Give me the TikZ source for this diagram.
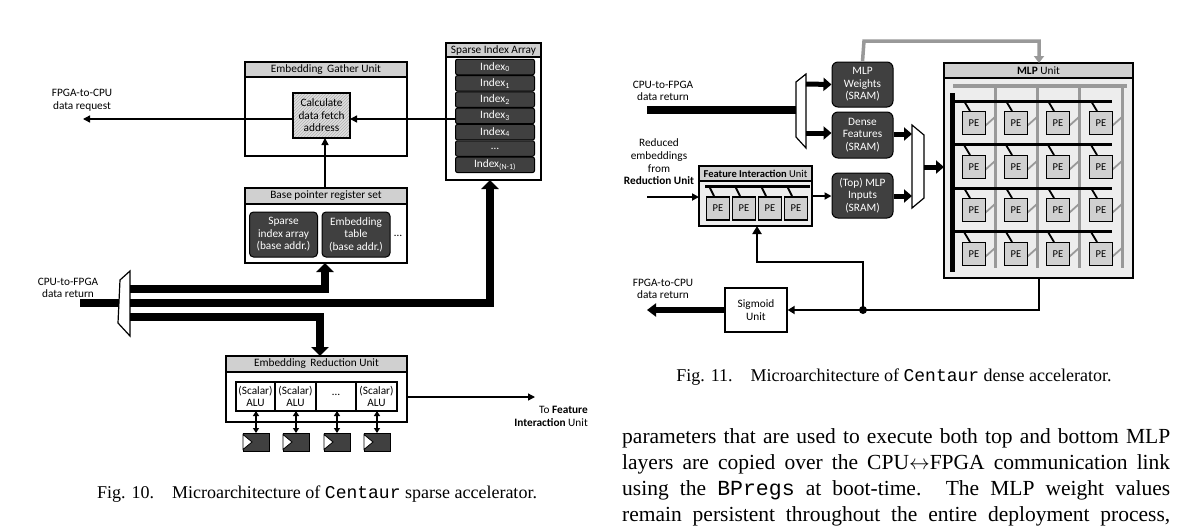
\documentclass[tikz,border=0pt]{standalone}
\usepackage{fontspec}
\setmainfont{Liberation Serif}
\setmonofont{Liberation Mono}
\newfontfamily\dsf{Carlito}
\usetikzlibrary{arrows.meta,patterns}
\definecolor{dk}{HTML}{404040}
\definecolor{hd}{HTML}{D0D0D0}
\definecolor{lg}{HTML}{EDEDED}
\definecolor{gl}{HTML}{999999}
\newcommand{\ixs}[1]{Index\textsubscript{#1}}
\begin{document}
\begin{tikzpicture}[x=1pt,y=-1pt,
  lab/.style={font=\dsf\fontsize{11.3}{12.6}\selectfont,align=center,inner sep=0},
  unit/.style={draw,line width=1.6pt,fill=white},
  hdr/.style={draw,line width=1.2pt,fill=hd},
  dbox/.style={draw=black,line width=1pt,fill=dk,rounded corners=4pt,text=white,font=\dsf\fontsize{11.3}{12.6}\selectfont,align=center},
  pe/.style={draw,line width=1.5pt,fill=hd,minimum size=23pt,inner sep=0,font=\dsf\fontsize{10.5}{11}\selectfont},
  bus/.style={line width=8pt},
  bt/.style={-{Triangle[width=17pt,length=9pt]}},
  st/.style={line width=1.4pt,-{Triangle[width=7pt,length=7pt]}},
  mt/.style={line width=5pt,-{Triangle[width=13pt,length=8pt]}},
  body/.style={anchor=base west,inner sep=0,font=\fontsize{21.5}{26}\selectfont}]
\useasboundingbox (0,0) rectangle (1200,531);
\fill[white] (0,0) rectangle (1200,531);
%% ---------- Fig 10 ----------
\draw[unit] (245,62) rectangle (407,156);
\draw[hdr] (245,62) rectangle (407,77);
\node[lab] (egu) at (326,70) {Embedding\, Gather Unit};
\draw[line width=1.3pt,fill=hd!70] (293,93) rectangle (350,138);
\fill[pattern=north east lines,pattern color=gray!60] (293,93) rectangle (350,138);
\draw[line width=1.3pt] (293,93) rectangle (350,138);
\node[lab] (calc) at (321.5,115.5) {Calculate\\data fetch\\address};
\coordinate (calcL) at (293,119); \coordinate (calcR) at (350,119); \coordinate (calcB) at (325,138);
\node[lab] (req) at (82,100) {FPGA-to-CPU\\data request};
\coordinate (reqE) at (83,119);
\draw[st] (calcL) -- (reqE);
\draw[unit] (446,43) rectangle (541,180);
\draw[hdr] (446,43) rectangle (541,57);
\node[lab] (sia) at (493.5,50) {Sparse Index Array};
\foreach \t [count=\i from 0] in {{\ixs{0}},{\ixs{1}},{\ixs{2}},{\ixs{3}},{\ixs{4}},{\ldots},{\ixs{(N-1)}}}
  \node[dbox,rounded corners=2pt,minimum width=79pt,minimum height=15.5pt,inner sep=0] (ix\i) at (495,{67+16.3*\i}) {\t};
\coordinate (siaL) at (455,119);
\draw[st] (siaL) -- (calcR);
\draw[unit] (245,188) rectangle (407,263);
\draw[hdr] (245,188) rectangle (407,204);
\node[lab] (bpr) at (326,196) {Base pointer register set};
\node[dbox,minimum width=68pt,minimum height=45pt,inner sep=1pt] (b1) at (283.5,234.5) {Sparse\\index array\\(base addr.)};
\node[dbox,minimum width=68pt,minimum height=45pt,inner sep=1pt] (b2) at (356,234.5) {Embedding\\table\\(base addr.)};
\node[lab] (bdots) at (398,236) {\ldots};
\draw[st] (325,188) -- (calcB);
\node[lab] (ret) at (68,288) {CPU-to-FPGA\\data return};
\draw[line width=1.2pt,fill=white] (120,280) -- (130,271) -- (130,336) -- (118,323) -- cycle;
\coordinate (mux1) at (119,303);
\draw[bus] (80,303) -- (mux1);
\draw[bus,bt] (130,289) -- (325,289) -- (325,263);
\draw[bus,bt] (130,303) -- (490,303) -- (490,180);
\draw[bus,bt] (130,317) -- (320,317) -- (320,356);
\draw[unit] (226,356) rectangle (407,422);
\draw[hdr] (226,356) rectangle (407,372);
\node[lab] (eru) at (316.5,364) {Embedding\, Reduction Unit};
\draw[line width=1.4pt] (236,382) rectangle (397,411);
\foreach \x in {275,316,356} \draw[line width=1.2pt] (\x,382) -- (\x,411);
\node[lab] (a1) at (255.5,396.5) {(Scalar)\\ALU};
\node[lab] (a2) at (295.5,396.5) {(Scalar)\\ALU};
\node[lab] (a3) at (336,395) {\ldots};
\node[lab] (a4) at (376.5,396.5) {(Scalar)\\ALU};
\foreach \x in {256,296,337,377}{
  \draw[fill=dk,line width=1pt] (\x-13,433) rectangle (\x+13,451);
  \draw[fill=white,line width=0.8pt] (\x-13,434.5) -- (\x-4,442) -- (\x-13,449.5) -- cycle;
  \draw[line width=1.3pt,{Triangle[width=6pt,length=5pt]}-{Triangle[width=6pt,length=5pt]}] (\x,411) -- (\x,433);
}
\coordinate (fiu0) at (535,397);
\draw[st] (407,397) -- (fiu0);
\node[lab,align=right,anchor=east] (tofe) at (588,416.5) {To \textbf{Feature}\\\textbf{Interaction} Unit};
\node[inner sep=0,font=\fontsize{18}{20}\selectfont] (c10) at (317,494) {Fig. 10.\quad Microarchitecture of \texttt{Centaur} sparse accelerator.};
%% ---------- Fig 11 ----------
\node[lab] (cret) at (663,91) {CPU-to-FPGA\\data return};
\draw[line width=8pt] (647,110) -- (797,110);
\draw[line width=1.2pt,fill=white] (796,82) -- (806,74) -- (806,148) -- (796,137) -- cycle;
\node[dbox,minimum width=61pt,minimum height=45pt,inner sep=0,rounded corners=6pt] (mw) at (862.5,84.5) {MLP\\Weights\\(SRAM)};
\node[dbox,minimum width=61pt,minimum height=46pt,inner sep=0,rounded corners=6pt] (df) at (862.5,135) {Dense\\Features\\(SRAM)};
\node[dbox,minimum width=61pt,minimum height=45pt,inner sep=0,rounded corners=6pt] (tm) at (862.5,195.5) {(Top) MLP\\Inputs\\(SRAM)};
\draw[mt] (806,84) -- (mw.west);
\draw[mt] (806,133) -- (df.west|-0,133);
\draw[line width=1.2pt,fill=white] (912,125) -- (924,135) -- (924,198) -- (912,208) -- cycle;
\coordinate (mx2) at (924,167);
\draw[mt] (df.east|-0,134) -- (912,134);
\draw[mt] (tm.east|-0,196) -- (912,196);
\draw[unit,fill=lg] (944,63) rectangle (1133,278);
\draw[hdr] (944,63) rectangle (1133,78);
\node[lab] (mlp) at (1038.5,70.5) {\textbf{MLP} Unit};
\draw[mt] (mx2) -- (944,167);
\draw[gl,line width=3.5pt,-{Triangle[width=10pt,length=7pt]}] (mw.north) -- (864,41) -- (1039,41) -- (1039,63);
\draw[gl,line width=4pt] (953,86) -- (1127,86);
\foreach \vx in {995,1037,1079,1122} \draw[gl,line width=3pt] (\vx,86) -- (\vx,268);
\draw[line width=5pt] (952,93) -- (952,272);
\foreach \hy in {101,144,188,231} \draw[line width=3pt] (952,\hy) -- (1112,\hy);
\foreach \cy [count=\r] in {123,167,210,254}{
  \foreach \cx/\vx [count=\c] in {974/995,1016/1037,1058/1079,1101/1122}{
    \draw[line width=1.8pt] (\cx-10,\cy-22) -- (\cx-4,\cy-12);
    \draw[gl,line width=1.8pt] (\cx+11,\cy+3) -- (\vx,\cy-6);
    \node[pe] (pe\r\c) at (\cx,\cy) {PE};
  }
}
\node[lab] (red) at (659,162) {Reduced\\embeddings\\from\\\textbf{Reduction Unit}};
\draw[unit,fill=lg] (699,166) rectangle (812,226);
\draw[hdr] (699,166) rectangle (812,181);
\node[lab,font=\dsf\fontsize{10.5}{12}\selectfont] (fiu) at (755.5,173.5) {\textbf{Feature Interaction} Unit};
\draw[line width=3pt] (705,186) -- (810,186);
\foreach \cx [count=\c] in {718,744,770,796}{
  \draw[line width=1.8pt] (\cx-9,186) -- (\cx-4,196);
  \node[pe] (fpe\c) at (\cx,208.5) {PE};
}
\draw[st,line width=2pt] (647,197) -- (699,197);
\draw[st,line width=2pt] (812,196) -- (tm.west|-0,196);
\node[draw,line width=1.3pt,minimum width=62pt,minimum height=44pt,lab] (sig) at (756,310) {Sigmoid\\Unit};
\node[lab] (fret) at (663,289) {FPGA-to-CPU\\data return};
\coordinate (jn) at (863,310);
\draw[line width=2.2pt,-{Triangle[width=8pt,length=7pt]}] (1039,278) -- (1039,310) -- (sig.east);
\fill (jn) circle (4pt);
\draw[line width=2.2pt,-{Triangle[width=9pt,length=8pt]}] (jn) -- (863,262) -- (757,262) -- (757,226);
\draw[line width=6pt,-{Triangle[width=13pt,length=9pt]}] (sig.west) -- (647,310);
\node[inner sep=0,font=\fontsize{18}{20}\selectfont] (c11) at (894,377) {Fig. 11.\quad Microarchitecture of \texttt{Centaur} dense accelerator.};
\node[body] (l1) at (622,443) {\makebox[548pt][s]{parameters that are used to execute both top and bottom MLP}};
\node[body] (l2) at (622,469) {\makebox[548pt][s]{layers are copied over the CPU$\leftrightarrow$FPGA communication link}};
\node[body] (l3) at (622,495) {\makebox[548pt][s]{using the \texttt{BPregs} at boot-time. The MLP weight values}};
\node[body] (l4) at (622,521) {\makebox[548pt][s]{remain persistent throughout the entire deployment process,}};
\end{tikzpicture}
\end{document}
